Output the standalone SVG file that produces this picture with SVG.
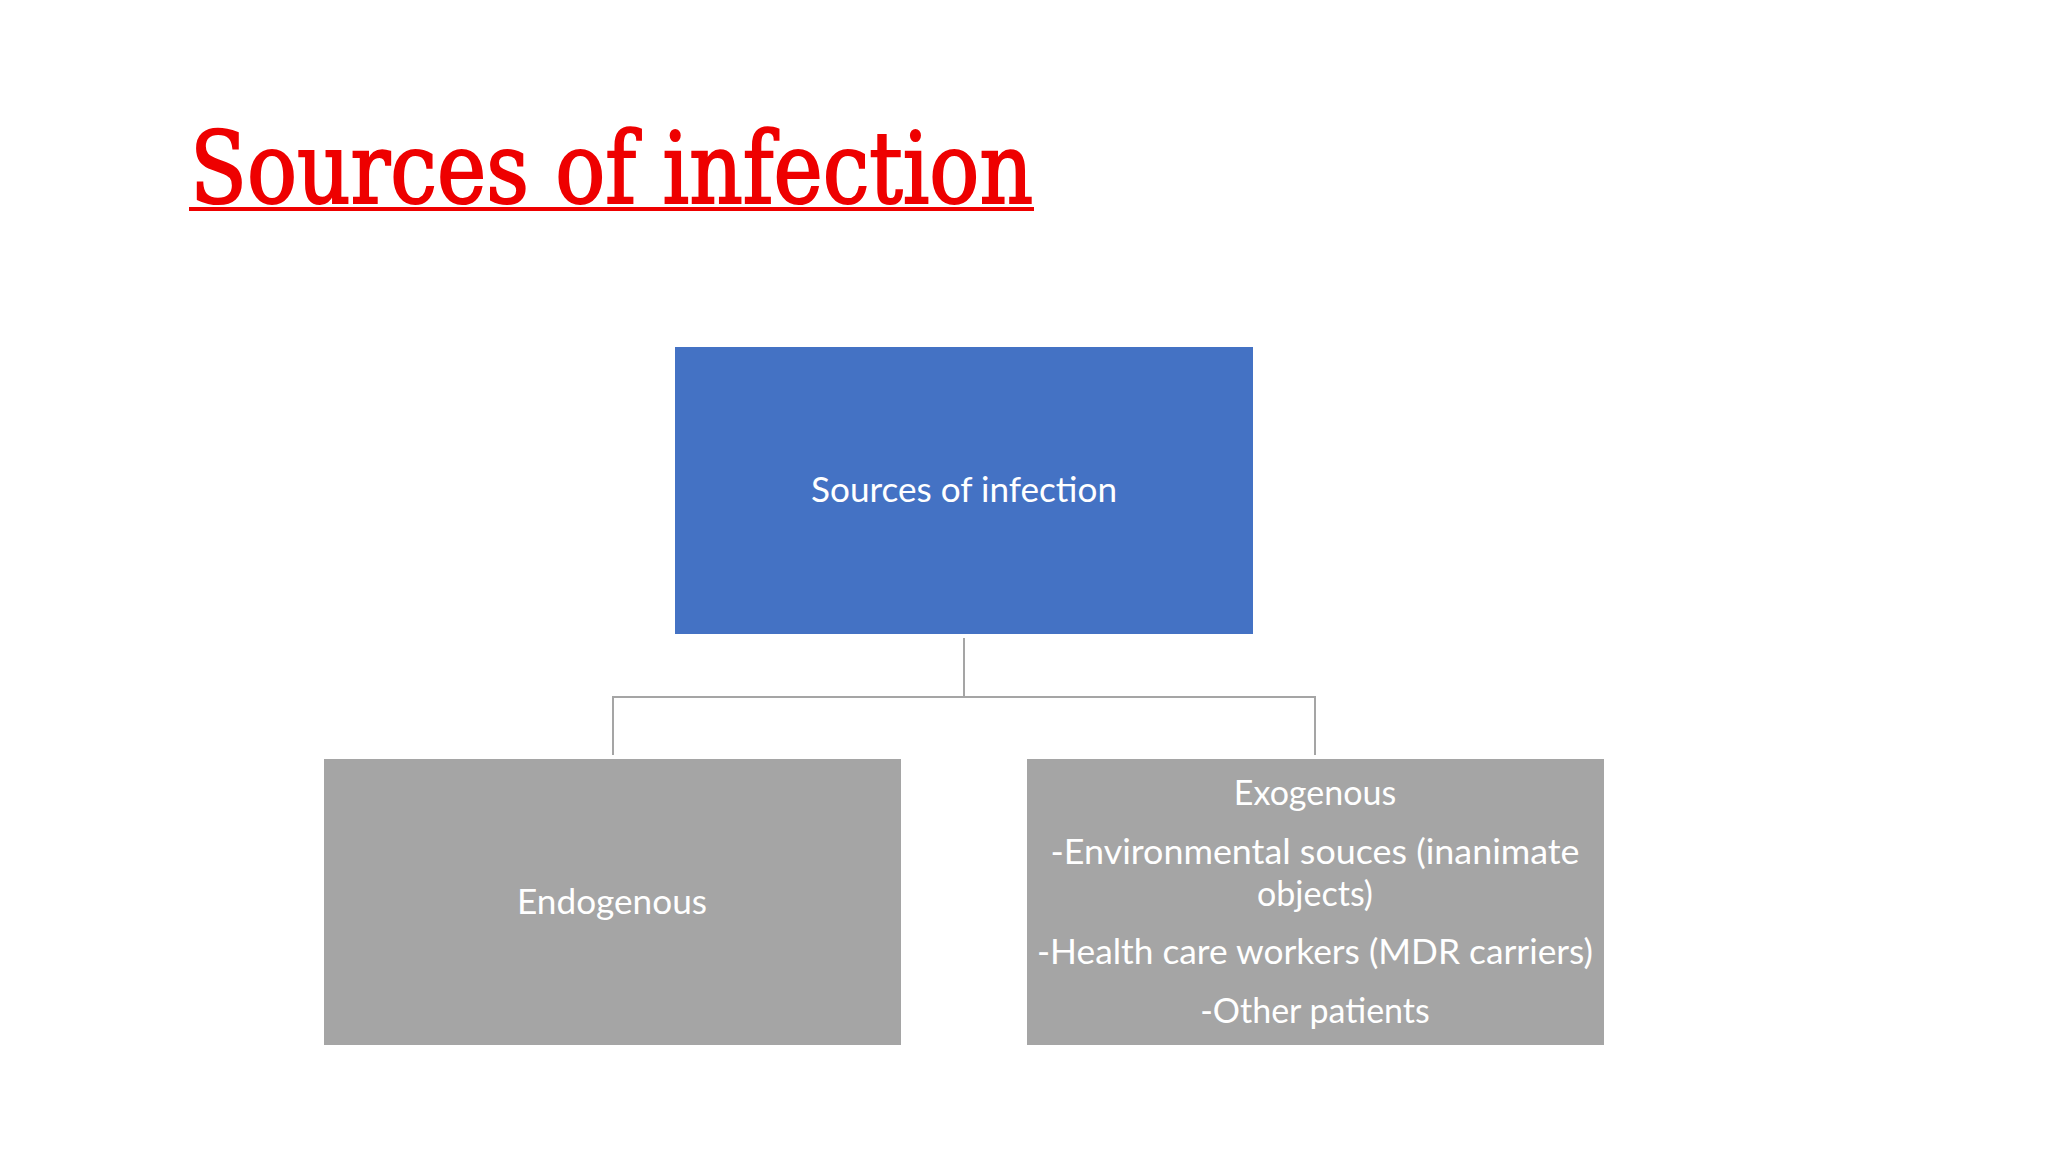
<svg xmlns="http://www.w3.org/2000/svg" width="2048" height="1152" viewBox="0 0 2048 1152">
<style>
.title{font-family:"DejaVu Serif","Liberation Serif",serif;font-size:100px;fill:#EE0000;stroke:#EE0000;stroke-width:2.2}
.lbl{font-family:Lato,"Open Sans","Liberation Sans",sans-serif;font-size:34px;fill:#FFFFFF;text-anchor:middle}
.conn{stroke:#A5A5A5;stroke-width:2;fill:none}
</style>
<rect width="2048" height="1152" fill="#FFFFFF"/>
<g id="title">
<text class="title" x="190" y="203" textLength="843" lengthAdjust="spacingAndGlyphs">Sources of infection</text>
<rect x="189" y="207" width="845" height="4" fill="#EE0000"/>
</g>
<g id="connectors">
<path class="conn" d="M964 638 V697 M613 755 V697 H1315 V755"/>
</g>
<g id="root">
<rect x="675" y="347" width="578" height="287" fill="#4472C4"/>
<text class="lbl" x="964" y="502" textLength="306" lengthAdjust="spacingAndGlyphs">Sources of infection</text>
</g>
<g id="endogenous">
<rect x="324" y="759" width="577" height="286" fill="#A5A5A5"/>
<text class="lbl" x="612" y="914" textLength="190" lengthAdjust="spacingAndGlyphs">Endogenous</text>
</g>
<g id="exogenous">
<rect x="1027" y="759" width="577" height="286" fill="#A5A5A5"/>
<text class="lbl" x="1315" y="805">Exogenous</text>
<text class="lbl" x="1315" y="864" textLength="529" lengthAdjust="spacingAndGlyphs">-Environmental souces (inanimate</text>
<text class="lbl" x="1315" y="906">objects)</text>
<text class="lbl" x="1315" y="964" textLength="556" lengthAdjust="spacingAndGlyphs">-Health care workers (MDR carriers)</text>
<text class="lbl" x="1315" y="1023">-Other patients</text>
</g>
</svg>
